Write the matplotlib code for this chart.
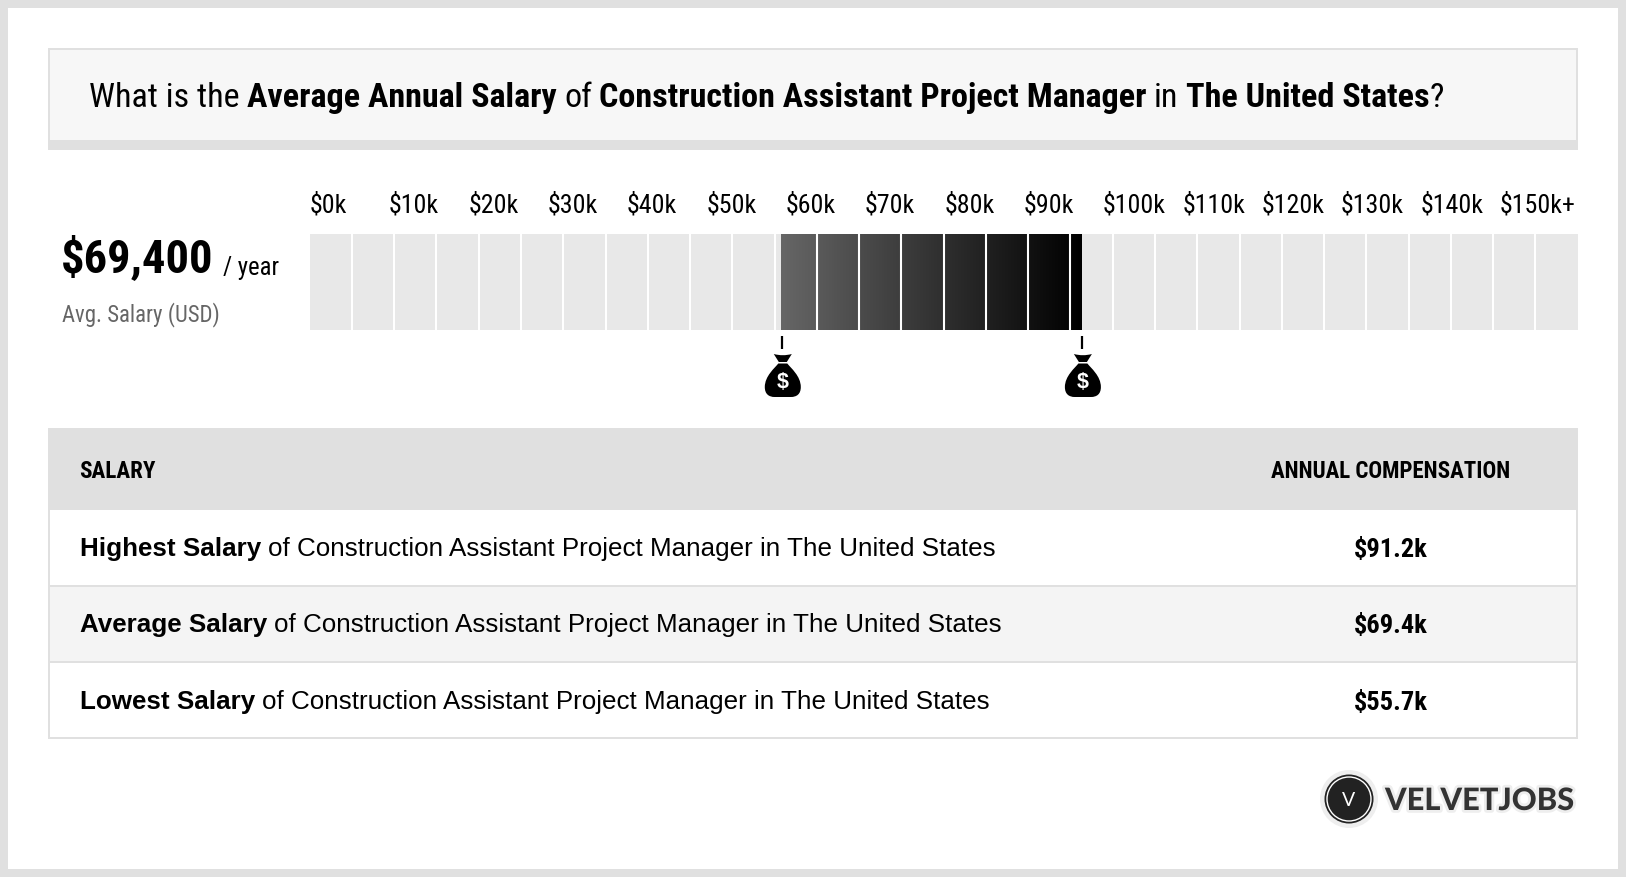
import matplotlib
matplotlib.use('Agg')
import matplotlib.pyplot as plt
import numpy as np
from matplotlib.colors import LinearSegmentedColormap
from matplotlib.patches import Rectangle, Circle, PathPatch
from matplotlib.path import Path
from matplotlib.transforms import Affine2D
import matplotlib.patheffects as pe

W, H = 1626, 878
NARROW = ['Roboto Condensed', 'Liberation Sans Narrow', 'Liberation Sans']
ARIAL = ['Liberation Sans']

# data
tick_labels = ['$0k', '$10k', '$20k', '$30k', '$40k', '$50k', '$60k', '$70k', '$80k', '$90k',
               '$100k', '$110k', '$120k', '$130k', '$140k', '$150k+']
cell_edges = np.arange(0, 155000, 5000)
low_salary = 55700
avg_salary = 69400
high_salary = 91200
row_names = ['Highest Salary', 'Average Salary', 'Lowest Salary']
row_values = ['$91.2k', '$69.4k', '$55.7k']
job = 'Construction Assistant Project Manager'
place = 'The United States'
title_runs = [('What is the', 'normal'), ('Average Annual Salary', 'bold'), ('of', 'normal'),
              (job, 'bold'), ('in', 'normal'), (place, 'bold')]

fig = plt.figure(figsize=(W / 100, H / 100), dpi=100, facecolor='white')
bg = fig.add_axes([0, 0, 1, 1])
bg.set_xlim(0, W)
bg.set_ylim(H - 1, -1)
bg.axis('off')


def box(x0, y0, x1, y1, color):
    bg.add_patch(Rectangle((x0, y0), x1 - x0, y1 - y0, facecolor=color, edgecolor='none'))


def runs(x, y, items, font, size, color='black', gap=None):
    # several weights on one line, each piece starts where the last one ended
    r = fig.canvas.get_renderer()
    for s, w in items:
        t = bg.text(x, y, s, family=font, fontsize=size, fontweight=w, color=color, va='baseline')
        x = bg.transData.inverted().transform(t.get_window_extent(r).get_points())[1, 0] + gap
    return x


# frame
box(0, -1, W, H, '#e0e0e0')
box(8, 8, 1618, 869, 'white')

# title
box(48, 48, 1578, 150, '#e0e0e0')
box(50, 50, 1576, 140, '#f7f7f7')
x_end = runs(89, 106, title_runs, NARROW, 24.55, gap=7.3)
bg.text(x_end - 7, 106, '?', family=NARROW, fontsize=24.55, va='baseline')

# big number
bg.text(61, 271.5, '$69,400', family=NARROW, fontsize=33.5, fontweight='bold', va='baseline')
bg.text(223, 274, '/ year', family=NARROW, fontsize=17.8, va='baseline')
bg.text(62, 320, 'Avg. Salary (USD)', family=NARROW, fontsize=16.4, color='#666666', va='baseline')

# labels over the bar
for i, lab in enumerate(tick_labels):
    bg.text(309.5 + 79.35 * i, 212, lab, family=NARROW, fontsize=18.7, va='baseline')

# salary bar, x is in dollars
ax = fig.add_axes([310 / W, 1 - 401 / H, (1578 - 310) / W, 210 / H], zorder=2)
ax.patch.set_alpha(0)
ax.axis('off')
ax.bar(cell_edges[:-1], 96, width=5000, bottom=234, align='edge', color='#e8e8e8', linewidth=0)
cmap = LinearSegmentedColormap.from_list('sal', ['#666666', '#000000'])
ax.imshow(np.linspace(0, 1, 256)[None, :], extent=[low_salary, high_salary, 234, 330],
          aspect='auto', cmap=cmap, zorder=3)
ax.vlines(cell_edges[1:-1] - 40, 234, 330, color='white', linewidth=1.5, zorder=4)
ax.set_xlim(0, 150000)
ax.set_ylim(400, 190)

# money bags
bag = Path(
    [(-9, 0), (0, 2.5), (9, 0), (4, 8), (-4, 8), (-9, 0),
     (-4.5, 9.5), (4.5, 9.5), (8, 14), (18, 22), (18, 33), (18, 40), (14, 43), (8, 43), (-8, 43),
     (-14, 43), (-18, 40), (-18, 33), (-18, 22), (-8, 14), (-4.5, 9.5), (-4.5, 9.5)],
    [Path.MOVETO, Path.CURVE3, Path.CURVE3, Path.LINETO, Path.LINETO, Path.CLOSEPOLY,
     Path.MOVETO, Path.LINETO, Path.CURVE4, Path.CURVE4, Path.CURVE4, Path.CURVE4, Path.CURVE4, Path.CURVE4,
     Path.LINETO, Path.CURVE4, Path.CURVE4, Path.CURVE4, Path.CURVE4, Path.CURVE4, Path.CURVE4, Path.CLOSEPOLY])
for val in [low_salary, high_salary]:
    ax.vlines(val + 100, 336, 349, color='black', linewidth=1.6)
    xd, yd = ax.transData.transform((val + 230, 354))
    ax.add_patch(PathPatch(bag, facecolor='black', edgecolor='none', clip_on=False, zorder=5,
                           transform=Affine2D().scale(1, -1).translate(xd, yd)))
    ax.text(val + 230, 382, '$', family=ARIAL, fontsize=15.5, fontweight='bold', color='white',
            ha='center', va='center', zorder=6)

# table
box(48, 428, 1578, 739, '#e0e0e0')
box(50, 510, 1576, 585, 'white')
box(50, 587, 1576, 661, '#f4f4f4')
box(50, 663, 1576, 737, 'white')
box(48, 428, 1578, 510, '#e0e0e0')
bg.text(79, 477, 'SALARY', family=NARROW, fontsize=16.6, fontweight='bold', va='baseline')
bg.text(1390.5, 477, 'ANNUAL COMPENSATION', family=NARROW, fontsize=16.5, fontweight='bold',
        ha='center', va='baseline')
for i, y in enumerate([555, 631, 708]):
    x = runs(80, y, [(row_names[i], 'bold')], ARIAL, 18.7, gap=6.5)
    bg.text(x, y, 'of ' + job + ' in ' + place, family=ARIAL, fontsize=18.7, va='baseline')
    bg.text(1390.5, y + 1, row_values[i], family=NARROW, fontsize=19, fontweight='bold',
            ha='center', va='baseline')

# logo
bg.add_patch(Circle((1349, 799), 29, facecolor='#eeeeee', edgecolor='none'))
bg.add_patch(Circle((1349, 799), 24.5, facecolor='#222222', edgecolor='none'))
bg.add_patch(Circle((1349, 799), 22, facecolor='none', edgecolor='white', linewidth=1))
bg.text(1349, 800, 'V', family=['Lato'], fontsize=14, color='white', ha='center', va='center')
bg.text(1385, 801, 'VELVETJOBS', family=['Lato'], fontsize=22.2, fontweight='black', color='#333333',
        va='center', path_effects=[pe.withStroke(linewidth=4, foreground='#eeeeee')])

fig.savefig('out.png', dpi=100, facecolor='white')
